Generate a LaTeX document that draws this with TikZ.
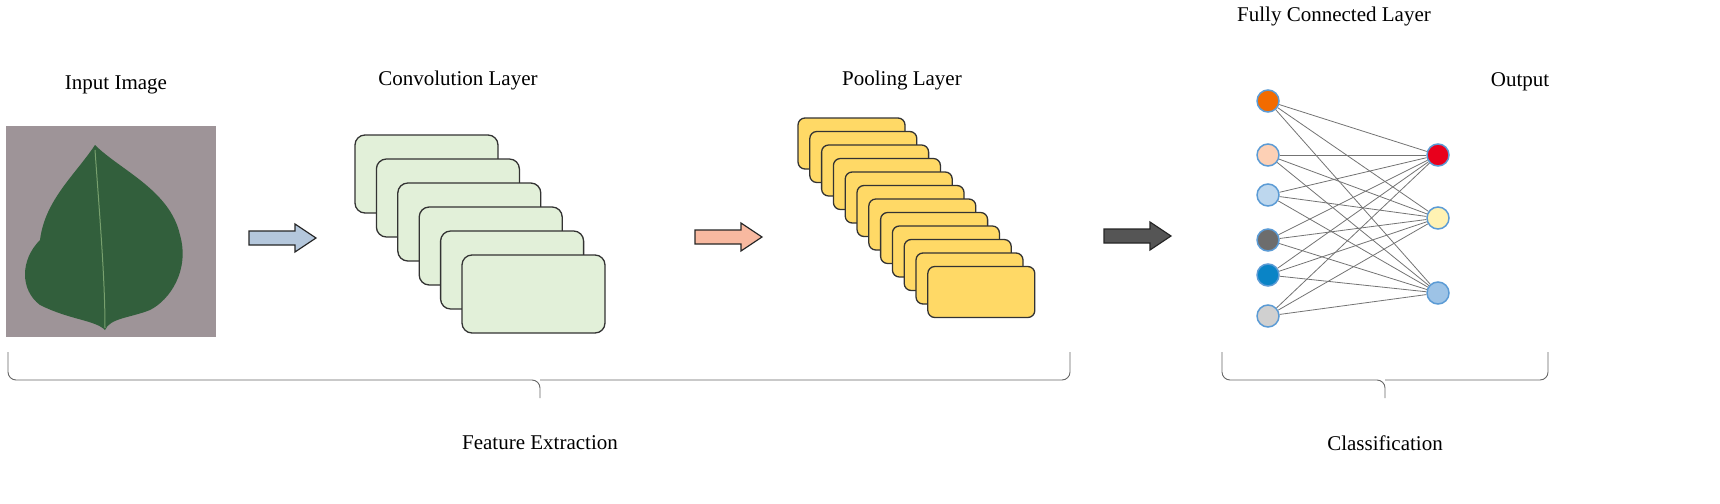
\documentclass[tikz,border=0pt]{standalone}
\usepackage{fontspec}
\setmainfont{Liberation Serif}
\definecolor{conv}{HTML}{E2F0D9}
\definecolor{pool}{HTML}{FFD966}
\definecolor{bord}{HTML}{5B9BD5}
\begin{document}
\begin{tikzpicture}[x=1pt,y=-1pt,
  lbl/.style={font=\fontsize{21}{24}\selectfont},
  convr/.style={draw=black!80,line width=1.3pt,fill=conv,rounded corners=10pt},
  poolr/.style={draw=black!80,line width=1.3pt,fill=pool,rounded corners=7pt},
  arr/.style={draw=black!85,line width=1.2pt,line join=miter},
  nd/.style={circle,draw=bord,line width=1.5pt,minimum size=22pt,inner sep=0pt},
  cn/.style={draw=black!55,line width=0.8pt},
  br/.style={draw=black!60,line width=0.9pt}]
\useasboundingbox (0,0) rectangle (1720,503);
% labels
\node[lbl] (t1) at (116,85) {Input Image};
\node[lbl] (t2) at (458,80) {Convolution Layer};
\node[lbl] (t3) at (902,80) {Pooling Layer};
\node[lbl] (t4) at (1334,16) {Fully Connected Layer};
\node[lbl] (t5) at (1520,82) {Output};
\node[lbl] (t6) at (540,443) {Feature Extraction};
\node[lbl] (t7) at (1385,443) {Classification};
% input image
\fill[fill={rgb,255:red,158;green,148;blue,152}] (6,126) rectangle (216,337);
\fill[fill={rgb,255:red,50;green,95;blue,60}] (95,145) .. controls (120,170) and (170,190) .. (180,235)
  .. controls (190,270) and (170,300) .. (150,310) .. controls (130,318) and (110,318) .. (105,330)
  .. controls (95,320) and (70,320) .. (40,305) .. controls (20,290) and (20,260) .. (40,240)
  .. controls (45,200) and (75,175) .. (95,145) -- cycle;
\draw[draw={rgb,255:red,120;green,160;blue,110},line width=1pt] (95,150) .. controls (100,220) and (105,280) .. (105,328);
% arrows
\foreach \x/\y/\c in {249/238/{rgb,255:red,180;green,199;blue,220},695/237/{rgb,255:red,248;green,185;blue,160},1104/236/{rgb,255:red,85;green,85;blue,85}}
  \draw[arr,fill=\c] (\x,\y-7) -- ++(46,0) -- ++(0,-7) -- ++(21,14) -- ++(-21,14) -- ++(0,-7) -- ++(-46,0) -- cycle;
% conv
\foreach \i in {0,...,5}
  \draw[convr] ({355+21.4*\i},{135+24*\i}) rectangle ++(143,78);
% pool
\foreach \i in {0,...,11}
  \draw[poolr] ({798+11.8*\i},{118+13.5*\i}) rectangle ++(107,51);
% network
\node[nd,fill={rgb,255:red,242;green,107;blue,0}] (i1) at (1268,101) {};
\node[nd,fill={rgb,255:red,253;green,208;blue,181}] (i2) at (1268,155) {};
\node[nd,fill={rgb,255:red,189;green,215;blue,238}] (i3) at (1268,195) {};
\node[nd,fill={rgb,255:red,109;green,109;blue,109}] (i4) at (1268,240) {};
\node[nd,fill={rgb,255:red,10;green,132;blue,198}] (i5) at (1268,275) {};
\node[nd,fill={rgb,255:red,208;green,208;blue,208}] (i6) at (1268,316) {};
\node[nd,fill={rgb,255:red,232;green,0;blue,28}] (o1) at (1438,155) {};
\node[nd,fill={rgb,255:red,255;green,242;blue,179}] (o2) at (1438,218) {};
\node[nd,fill={rgb,255:red,157;green,195;blue,230}] (o3) at (1438,293) {};
\foreach \a in {i1,i2,i3,i4,i5,i6}
  \foreach \b in {o1,o2,o3}
    \draw[cn] (\a) -- (\b);
% braces
\coordinate (b1l) at (8,352); \coordinate (b1m) at (540,398); \coordinate (b1r) at (1070,352);
\draw[br,rounded corners=8pt] (b1l) |- (540,380) -- (b1m);
\draw[br,rounded corners=8pt] (b1r) |- (540,380);
\coordinate (b2l) at (1222,352); \coordinate (b2m) at (1385,398); \coordinate (b2r) at (1548,352);
\draw[br,rounded corners=8pt] (b2l) |- (1385,380) -- (b2m);
\draw[br,rounded corners=8pt] (b2r) |- (1385,380);
\end{tikzpicture}
\end{document}
